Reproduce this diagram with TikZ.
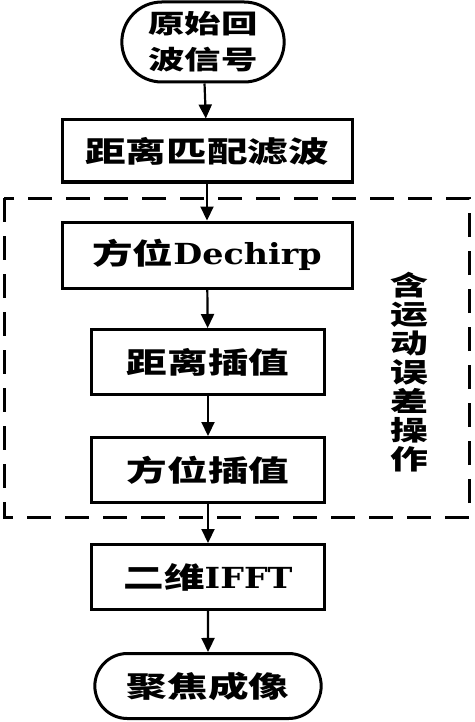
\documentclass[tikz,border=0pt]{standalone}
\usepackage{fontspec}
\usepackage{tikz}
\usetikzlibrary{arrows.meta,shapes.misc}
\newfontfamily\cjk{Noto Sans CJK SC}[FakeStretch=1.4]
\newfontfamily\lat{DejaVu Serif}[FakeStretch=1.15]

\begin{document}
\begin{tikzpicture}[x=1pt, y=-1pt,
    block/.style={draw, line width=3pt, minimum width=233pt, minimum height=65pt, align=center, font=\cjk\bfseries\fontsize{29}{37}\selectfont},
    term/.style={block, rounded rectangle},
    arrow/.style={-{Triangle[width=13pt,length=14pt]}, line width=2.2pt},
    zone/.style={draw, line width=3pt, dash pattern=on 24pt off 14pt}
]
\useasboundingbox (0,0) rectangle (474,722);
\node[term, minimum width=169pt, minimum height=80pt, font=\cjk\bfseries\fontsize{26}{36}\selectfont] (raw) at (203,42) {原始回\\波信号};
\node[block, minimum width=290pt, minimum height=62pt] (rmf) at (207,151) {距离匹配滤波};
\node[block, minimum width=290pt, minimum height=66pt] (dechirp) at (207,255) {方位{\lat\bfseries Dechirp}};
\node[block] (rint) at (208,362) {距离插值};
\node[block] (aint) at (208,470) {方位插值};
\node[block] (ifft) at (208,577) {二维{\lat\bfseries IFFT}};
\node[term] (img) at (208,686) {聚焦成像};
\draw[zone] (4,198) rectangle (469,517);
\node[font=\cjk\bfseries\fontsize{27}{29}\selectfont, align=center, inner sep=0pt] (motion) at (409,372) {含\\运\\动\\误\\差\\操\\作};
\draw[arrow] (raw) -- (rmf);
\draw[arrow] (rmf) -- (rmf |- dechirp.north);
\draw[arrow] (dechirp) -- (rint);
\draw[arrow] (rint) -- (aint);
\draw[arrow] (aint) -- (ifft);
\draw[arrow] (ifft) -- (img);
\end{tikzpicture}
\end{document}
